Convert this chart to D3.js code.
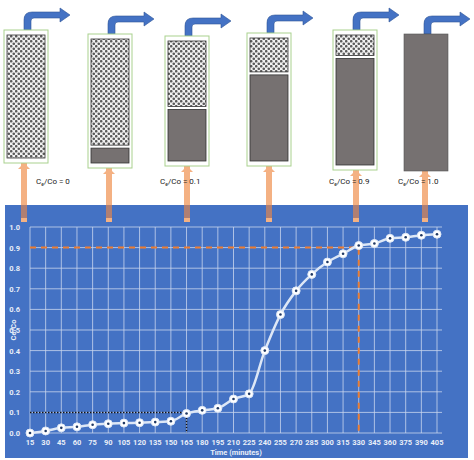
<!DOCTYPE html>
<html><head><meta charset="utf-8">
<script src="https://cdn.jsdelivr.net/npm/d3@7"></script>
<style>body{margin:0;background:#fff}svg{display:block}</style>
</head><body><svg id="vis" width="474" height="460"></svg>
<script>
const times = d3.range(15, 406, 15);
const ratio = [0, 0.01, 0.025, 0.03, 0.04, 0.045, 0.048, 0.05, 0.053, 0.057, 0.095, 0.11, 0.12, 0.165, 0.19,
  0.40, 0.575, 0.69, 0.77, 0.83, 0.87, 0.91, 0.92, 0.945, 0.95, 0.96, 0.965];
const yTicks = d3.range(0, 1.01, 0.1);
// columns: saturated (gray) fraction of the bed
const colFill = [0, 0.12, 0.43, 0.70, 0.82, 1];
const colLabels = ["0", "", "0.1", "", "0.9", "1.0"];

const svg = d3.select("#vis");
const x = d3.scalePoint().domain(times).range([30, 437]);
const y = d3.scaleLinear().domain([0, 1]).range([433, 227]);

const defs = svg.append("defs");
const pat = defs.append("pattern").attr("id", "chk").attr("width", 5).attr("height", 5)
  .attr("patternUnits", "userSpaceOnUse");
pat.append("rect").attr("width", 5).attr("height", 5).attr("fill", "#f2f2f2");
pat.append("circle").attr("cx", 1.25).attr("cy", 1.25).attr("r", 1.3).attr("fill", "#5a5a5a");
pat.append("circle").attr("cx", 3.75).attr("cy", 3.75).attr("r", 1.3).attr("fill", "#5a5a5a");

// blue panel
svg.append("rect").attr("x", 5).attr("y", 205).attr("width", 463).attr("height", 253).attr("fill", "#4472C4");

// grid
const g = svg.append("g");
g.selectAll(".hy").data(yTicks).join("line")
  .attr("x1", 30).attr("x2", 442).attr("y1", d => y(d)).attr("y2", d => y(d))
  .attr("stroke", "#c9d6ee").attr("stroke-width", 0.8);
g.selectAll(".vx").data(times).join("line")
  .attr("x1", d => x(d)).attr("x2", d => x(d)).attr("y1", y(1)).attr("y2", y(0))
  .attr("stroke", "#c9d6ee").attr("stroke-width", 0.8);

g.selectAll(".yl").data(yTicks).join("text")
  .attr("x", 20).attr("y", d => y(d) + 3).attr("text-anchor", "end")
  .attr("font-family", "Roboto, sans-serif").attr("font-size", 7.5).attr("font-weight", "bold")
  .attr("fill", "#e8eef8").text(d => d.toFixed(1));
g.selectAll(".xl").data(times).join("text")
  .attr("x", d => x(d)).attr("y", 445).attr("text-anchor", "middle")
  .attr("font-family", "Roboto, sans-serif").attr("font-size", 7.5).attr("font-weight", "bold")
  .attr("fill", "#e8eef8").text(d => d);
svg.append("text").attr("x", 236).attr("y", 455).attr("text-anchor", "middle")
  .attr("font-family", "Roboto, sans-serif").attr("font-size", 7.5).attr("font-weight", "bold")
  .attr("fill", "#e8eef8").text("Time (minutes)");
svg.append("text").attr("transform", `translate(16,${y(0.5)}) rotate(-90)`).attr("text-anchor", "middle")
  .attr("font-family", "Roboto, sans-serif").attr("font-size", 7.5).attr("font-weight", "bold")
  .attr("fill", "#e8eef8").text("Ce/Co");

// guide lines
svg.append("path").attr("d", `M${x(15)},${y(0.9)}H${x(330)}V${y(0)}`)
  .attr("fill", "none").attr("stroke", "#ED7D31").attr("stroke-width", 2).attr("stroke-dasharray", "6,5");
svg.append("path").attr("d", `M${x(15)},${y(0.1)}H${x(165)}V${y(0)}`)
  .attr("fill", "none").attr("stroke", "#111").attr("stroke-width", 1.5).attr("stroke-dasharray", "1.5,1.5");

// curve
const pts = times.map((t, i) => [t, ratio[i]]);
svg.append("path").datum(pts)
  .attr("d", d3.line().x(d => x(d[0])).y(d => y(d[1])).curve(d3.curveMonotoneX))
  .attr("fill", "none").attr("stroke", "#dde7f6").attr("stroke-width", 2.5);
svg.selectAll(".pt").data(pts).join("circle")
  .attr("cx", d => x(d[0])).attr("cy", d => y(d[1])).attr("r", 4)
  .attr("fill", "#fff").attr("stroke", "#dde7f6");
svg.selectAll(".pc").data(pts).join("circle")
  .attr("cx", d => x(d[0])).attr("cy", d => y(d[1])).attr("r", 1.3).attr("fill", "#1f3864");

// columns
const colX = [4, 88, 165, 247, 333, 404];
const colTop = [30, 34, 36, 33, 30, 34];
const colH = [133, 134, 130, 133, 140, 137];
const arrX = [24, 109, 187, 269, 356, 425];
colFill.forEach((f, i) => {
  const cx = colX[i], top = colTop[i], h = colH[i], w = 44;
  // inlet arrow
  svg.append("rect").attr("x", arrX[i] - 3).attr("y", top + h).attr("width", 6).attr("height", 210 - top - h + 12)
    .attr("fill", "#F4B183");
  svg.append("path").attr("d", `M${arrX[i] - 6},${top + h + 6}L${arrX[i]},${top + h}L${arrX[i] + 6},${top + h + 6}Z`)
    .attr("fill", "#F4B183");
  svg.append("rect").attr("x", arrX[i] - 3).attr("y", 205).attr("width", 6).attr("height", 13).attr("fill", "#b07f73");
  // outlet arrow
  const ox = cx + 20;
  svg.append("path")
    .attr("d", `M${ox},${top}V${top - 10}Q${ox},${top - 18} ${ox + 8},${top - 18}H${ox + 36}V${top - 22}L${ox + 46},${top - 15}L${ox + 36},${top - 8}V${top - 12}H${ox + 10}Q${ox + 7},${top - 12} ${ox + 7},${top - 9}V${top}Z`)
    .attr("fill", "#4472C4").attr("stroke", "#2f5597").attr("stroke-width", 0.6);
  if (f < 1) {
    svg.append("rect").attr("x", cx).attr("y", top).attr("width", w).attr("height", h)
      .attr("fill", "#fff").attr("stroke", "#a9d18e");
    const ih = h - 10, iy = top + 5, gh = ih * f;
    svg.append("rect").attr("x", cx + 3).attr("y", iy).attr("width", w - 6).attr("height", ih - gh - (f > 0 ? 3 : 0))
      .attr("fill", "url(#chk)").attr("stroke", "#333").attr("stroke-width", 0.8);
    if (f > 0) svg.append("rect").attr("x", cx + 3).attr("y", iy + ih - gh).attr("width", w - 6).attr("height", gh)
      .attr("fill", "#767171").attr("stroke", "#333").attr("stroke-width", 0.8);
  } else {
    svg.append("rect").attr("x", cx).attr("y", top).attr("width", w).attr("height", h)
      .attr("fill", "#767171").attr("stroke", "#555").attr("stroke-width", 0.6);
  }
  if (colLabels[i]) {
    const t = svg.append("text").attr("x", arrX[i] + (i === 0 ? 12 : -27)).attr("y", 184)
      .attr("font-family", "Roboto, sans-serif").attr("font-size", 8).attr("fill", "#222");
    t.append("tspan").text("C");
    t.append("tspan").attr("font-size", 5).attr("dy", 2).text("e");
    t.append("tspan").attr("dy", -2).text("/Co = " + colLabels[i]);
  }
});
</script></body></html>
